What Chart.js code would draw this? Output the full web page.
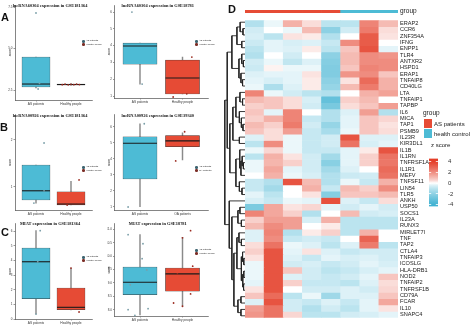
<!DOCTYPE html>
<html>
<head>
<meta charset="utf-8">
<script src="https://cdn.jsdelivr.net/npm/chart.js@4.4.1/dist/chart.umd.min.js"></script>
<style>
html, body { margin: 0; padding: 0; background: #fff; }
body { width: 474px; height: 326px; position: relative; overflow: hidden; font-family: 'Liberation Sans', Arial, sans-serif; }
canvas, .t { position: absolute; }
.t { white-space: nowrap; line-height: 1; color: #222; }
.panel { font-weight: bold; font-size: 11px; color: #111; }
</style>
</head>
<body>
<script>
// ---- box plot panels (A, B, C) ----
const groupsHP = ['AS patients', 'Healthy people'];
const groupsOA = ['AS patients', 'OA patients'];
const boxColors = ['#4DBBD5', '#E64B35'];
const pointColors = ['#7a9ea8', '#9b2b20'];
const legendKeys = ['#3d6470', '#7b2e26'];

// [lower whisker, q1, median, q3, upper whisker] for each group
const a1Stats = [[2.62, 2.68, 2.86, 4.49, 4.49], [2.79, 2.80, 2.83, 2.86, 2.88]];
const a2Stats = [[1.71, 2.90, 3.98, 4.15, 4.15], [1.12, 1.12, 2.07, 3.14, 3.32]];
const b1Stats = [[0.66, 0.725, 0.92, 1.465, 1.465], [0.62, 0.62, 0.64, 0.90, 1.12]];
const b2Stats = [[1.02, 2.75, 4.98, 5.39, 6.19], [3.94, 4.77, 5.13, 5.46, 5.64]];
const c1Stats = [[0.34, 1.39, 3.92, 4.86, 6.05], [0.62, 0.64, 0.80, 2.12, 3.49]];
const c2Stats = [[7.80, 8.56, 9.03, 9.60, 10.81], [8.13, 8.69, 9.34, 9.56, 10.71]];

// jittered samples: [offset from group centre, value]
const a1Points = [[[0, 7.14], [0.06, 2.56], [0.1, 2.9]],
  [[-0.25, 2.82], [-0.17, 2.85], [-0.08, 2.81], [0, 2.84], [0.08, 2.82], [0.16, 2.85], [0.24, 2.83]]];
const a2Points = [[[-0.19, 6.0], [0.05, 1.71]], [[0.22, 3.32], [-0.22, 0.94], [0.1, 1.13]]];
const b1Points = [[[0.23, 1.93], [-0.06, 0.66], [0.23, 0.92]], [[0.23, 1.15], [-0.11, 0.62]]];
const b2Points = [[[-0.28, 1.0], [0.1, 6.2]], [[-0.16, 3.88], [0.05, 5.7]]];
const c1Points = [[[0.12, 6.05], [0, 0.34], [0.05, 3.92]], [[0.23, 0.48], [0, 3.49]]];
const c2Points = [
  [[-0.28, 10.81], [0.07, 10.47], [0.05, 9.91], [-0.28, 8.0], [0.19, 8.04], [-0.12, 7.79], [-0.23, 8.93], [0.16, 9.49]],
  [[0.19, 10.96], [0, 10.69], [0.24, 9.63], [0.19, 8.59], [-0.21, 8.25], [0, 8.13], [-0.12, 9.34]]];

const a1Ticks = [2.5, 5.0, 7.5];
const a2Ticks = [1, 2, 3, 4, 5, 6];
const b1Ticks = [1, 2];
const b2Ticks = [1, 2, 3, 4, 5, 6];
const c1Ticks = [0, 1, 2, 3, 4, 5, 6];
const c2Ticks = [8.0, 8.5, 9.0, 9.5, 10.0, 10.5, 11.0];

const boxPanels = [
  { title: 'lncRNA60304 expression in GSE181364', groups: groupsHP, stats: a1Stats, points: a1Points, ticks: a1Ticks, range: [1.898, 7.617], dec: 1,
    pos: { left: 0, top: 0, w: 110, h: 108, padL: 8, yW: 7, padR: 18, xH: 8, tTop: 3.4, tBot: -3.6 }, legend: [82, 40] },
  { title: 'lncRNA60304 expression in GSE18781', groups: groupsHP, stats: a2Stats, points: a2Points, ticks: a2Ticks, range: [0.881, 6.417], dec: 0,
    pos: { left: 100, top: 0, w: 125, h: 108, padL: 7.5, yW: 7, padR: 17, xH: 10, tTop: 3.4, tBot: -3.6 }, legend: [195, 40] },
  { title: 'lncRNA00926 expression in GSE181364', groups: groupsHP, stats: b1Stats, points: b1Points, ticks: b1Ticks, range: [0.514, 2.526], dec: 0,
    pos: { left: 0, top: 109, w: 110, h: 109, padL: 8, yW: 7, padR: 18, xH: 8, tTop: 4.4, tBot: -3.9 }, legend: [82, 166] },
  { title: 'lncRNA00926 expression in GSE39340', groups: groupsOA, stats: b2Stats, points: b2Points, ticks: b2Ticks, range: [0.8125, 6.76], dec: 0,
    pos: { left: 100, top: 109, w: 125, h: 109, padL: 7.5, yW: 7, padR: 17, xH: 8, tTop: 4.4, tBot: -3.9 }, legend: [195, 166] },
  { title: 'MIAT expression in GSE181364', groups: groupsHP, stats: c1Stats, points: c1Points, ticks: c1Ticks, range: [0, 6.52], dec: 0,
    pos: { left: 0, top: 218, w: 110, h: 108, padL: 8, yW: 7, padR: 18, xH: 7, tTop: 3.4, tBot: -2.9 }, legend: [82, 256] },
  { title: 'MIAT expression in GSE18781', groups: groupsHP, stats: c2Stats, points: c2Points, ticks: c2Ticks, range: [7.764, 11.217], dec: 1,
    pos: { left: 100, top: 218, w: 125, h: 108, padL: 7.5, yW: 7, padR: 17, xH: 10, tTop: 3.4, tBot: -2.9 }, legend: [195, 249] }
];

// ---- heatmap panel (D) ----
const genes = ['ERAP2', 'CCR6', 'ZNF354A', 'IFNG', 'ENPP1', 'TLR4', 'ANTXR2', 'HSPD1', 'ERAP1', 'TNFAIP8',
  'CD40LG', 'LTA', 'TNFAIP1', 'TAPBP', 'IL6', 'MICA', 'TAP1', 'PSMB9', 'IL23R', 'KIR3DL1',
  'IL1B', 'IL1RN', 'TNFRSF1A', 'IL1R1', 'MEFV', 'TNFSF11', 'LIN54', 'TLR5', 'ANKH', 'USP50',
  'SOCS1', 'IL23A', 'RUNX3', 'MIRLET7I', 'TNF', 'TAP2', 'CTLA4', 'TNFAIP3', 'ICOSLG', 'HLA-DRB1',
  'NOD2', 'TNFAIP2', 'TNFRSF1B', 'CD79A', 'FCAR', 'IL10', 'SNAPC4'];
const samples = ['AS1', 'AS2', 'AS3', 'AS4', 'AS5', 'HC1', 'HC2', 'HC3'];
const sampleGroups = ['AS patients', 'AS patients', 'AS patients', 'AS patients', 'AS patients',
  'health control', 'health control', 'health control'];
const groupColors = { 'AS patients': '#E64B35', 'health control': '#4DBBD5' };

// z scores, one row per gene, one value per sample
const zScores = [
  [-1.2, -0.2, 1.2, 0.4, -1.0, -1.0, 2.2, 1.0],
  [-0.6, 0, -0.2, 1.0, -2.0, -0.6, 2.4, 0.4],
  [-0.5, -1.0, 0.3, 0.2, -1.2, 0, 3.2, 0.3],
  [-0.7, -0.3, -0.5, -0.4, -0.8, 2.0, 3.2, 0],
  [-1.0, -0.3, -0.4, 0.2, -1.0, 0.8, 3.4, -0.3],
  [-1.2, 0, -0.6, 0, -2.0, 1.0, 2.0, 1.8],
  [-0.6, -0.2, -0.9, -0.4, -2.2, 1.0, 2.0, 2.0],
  [-0.7, 0.1, -0.2, -0.2, -2.3, 0.8, 2.2, 2.0],
  [-0.4, -0.3, -0.3, 0.3, -2.3, 1.8, 2.0, 0.8],
  [-0.3, -0.5, -0.3, 0.2, -2.0, 0.3, 2.8, 1.2],
  [-0.2, -1.3, -0.4, 0.2, -1.8, 1.0, 2.4, 1.2],
  [2.2, -0.2, -0.6, -1.0, -1.2, 0, 1.2, 1.5],
  [1.0, 0.8, 0.4, -0.5, -3.0, 0.6, 1.0, 0],
  [0.6, 0.8, 0.4, -0.6, -2.5, 0.4, 0.8, 1.6],
  [0.8, -0.3, 2.2, 0, -1.2, -0.4, 1.6, -1.2],
  [0.6, 1.2, 2.2, -0.8, -1.2, -0.3, 0.8, 0.5],
  [1.0, 0.6, 2.4, -0.6, -1.8, -0.3, 0.8, 0.3],
  [0.8, 0.4, 1.6, -0.8, -1.4, -0.2, 0.8, 0.4],
  [-0.4, 0.4, -0.2, -0.8, -0.6, 3.4, -0.4, -0.4],
  [-1.0, 2.0, -0.2, -0.8, -0.6, 2.6, -0.5, -0.3],
  [-0.2, 0.5, -0.2, -0.8, -0.8, -0.3, 0.2, 3.4],
  [-1.0, 1.2, 0.3, -0.6, -1.5, -0.3, 0.6, 2.6],
  [-0.2, 1.1, 0.6, -0.6, -2.1, -0.3, 0.6, 2.5],
  [-0.2, 1.4, -0.3, -0.6, -1.5, -0.4, 0, 2.8],
  [0, 1.2, -0.2, -0.5, -1.2, -0.7, -0.6, 2.6],
  [-0.8, -1.2, 3.4, 1.0, -1.2, -0.2, -0.8, 1.2],
  [-0.8, -1.5, 0, 1.2, -0.8, 1.0, 0.6, 2.0],
  [-0.3, -1.0, 0, 0.3, -2.2, 0.8, 0.8, 1.0],
  [-0.5, -0.8, -0.2, -0.3, 3.5, -0.4, -0.8, 0.4],
  [-2.4, 1.4, 0.3, 0.5, -0.3, -0.6, -0.3, -0.6],
  [2.2, 1.4, 0.6, -1.2, 0, 1.0, -0.6, -0.5],
  [0.6, 1.6, 1.6, -0.5, 1.2, -1.0, -1.0, -1.0],
  [1.0, 2.0, 1.6, 0, 0.2, -1.0, -1.0, -1.0],
  [-0.4, 2.2, -1.2, 0.2, 0.6, -1.0, 1.2, 0],
  [-0.4, 2.0, -0.8, -0.6, -0.8, 0, 3.0, 0],
  [0.4, 2.6, -0.2, -0.4, -1.0, -0.4, 2.4, -1.0],
  [0.6, 3.4, -0.3, 0.3, -0.4, -0.8, -0.6, -0.6],
  [0.3, 3.4, -0.4, -0.8, -0.3, -0.5, -0.4, -0.6],
  [-0.2, 3.4, -0.6, -0.5, -0.8, -0.6, -0.3, -0.5],
  [-0.2, 3.4, 0.8, -0.6, -1.0, -0.8, -0.5, -0.3],
  [-0.2, 3.4, -0.4, -0.6, -0.8, -0.6, -0.3, 0.8],
  [-0.3, 3.4, 0.6, -0.8, -0.8, -1.0, -0.4, 0.4],
  [0.3, 3.4, 0, -0.6, -0.6, -0.4, -0.6, 0.5],
  [0.8, 2.8, -1.0, -0.2, -1.6, -0.4, -0.4, 0.8],
  [-0.4, 3.4, -0.6, -0.8, -0.4, -0.8, -0.3, 1.4],
  [1.6, 2.6, -0.6, -1.2, -0.6, -1.0, -0.3, 0.3],
  [1.8, 2.6, 0.5, -1.0, -1.0, -0.6, -0.5, -0.3]
];

// row dendrogram: [child, child, height]; strings are genes, numbers are earlier merges
const treeMerges = [
  ['CCR6', 'ZNF354A', 1.0], ['IFNG', 'ENPP1', 1.6], ['ERAP2', 0, 2.4], [2, 1, 4.0],
  ['ANTXR2', 'HSPD1', 0.8], ['TLR4', 4, 1.6], ['TNFAIP8', 'CD40LG', 1.2], ['ERAP1', 6, 2.0],
  [5, 7, 3.0], [3, 8, 6.5],
  ['TNFAIP1', 'TAPBP', 1.2], ['LTA', 10, 2.5], ['TAP1', 'PSMB9', 1.0], ['MICA', 12, 1.8],
  ['IL6', 13, 2.8], [11, 14, 4.5], ['IL23R', 'KIR3DL1', 2.8], [15, 16, 6.0],
  ['TNFRSF1A', 'IL1R1', 0.8], ['IL1RN', 18, 1.4], [19, 'MEFV', 2.0], ['IL1B', 20, 2.6],
  ['LIN54', 'TLR5', 1.5], ['TNFSF11', 22, 2.8], [21, 23, 4.5], [17, 24, 7.5], [9, 25, 8.8],
  ['USP50', 'SOCS1', 2.5], ['IL23A', 'RUNX3', 1.8], [27, 28, 3.5],
  ['TNF', 'TAP2', 1.8], ['MIRLET7I', 30, 3.0],
  ['TNFAIP3', 'ICOSLG', 0.6], ['CTLA4', 32, 1.2], ['HLA-DRB1', 'NOD2', 0.6], ['TNFAIP2', 'TNFRSF1B', 0.7],
  [34, 35, 1.1], [33, 36, 1.8], [31, 37, 4.0],
  ['CD79A', 'FCAR', 2.0], ['IL10', 'SNAPC4', 2.0], [39, 40, 3.5], [38, 41, 5.5],
  [29, 42, 6.5], ['ANKH', 43, 7.8], [26, 44, 10]
];

const zTicks = [-4, -2, 0, 2, 4];
const zAxisRange = [-4.3, 4.5];

Chart.defaults.font.family = "'Liberation Sans', Arial, sans-serif";
Chart.defaults.color = '#333';

// z score -> colour, blue / white / red
const zLow = [64, 178, 210], zMid = [255, 255, 255], zHigh = [228, 62, 40];
function zColor(v) {
  const t = Math.max(-1, Math.min(1, v / 4));
  const end = t < 0 ? zLow : zHigh;
  const k = Math.pow(Math.abs(t), 0.75);
  return 'rgb(' + zMid.map((c, i) => Math.round(c + (end[i] - c) * k)).join(',') + ')';
}

function addCanvas(left, top, w, h) {
  const c = document.createElement('canvas');
  c.width = w; c.height = h;
  c.style.left = left + 'px'; c.style.top = top + 'px';
  document.body.appendChild(c);
  return c;
}

function addText(txt, left, top, size, cls) {
  const d = document.createElement('div');
  d.className = 't' + (cls ? ' ' + cls : '');
  d.textContent = txt;
  d.style.left = left + 'px'; d.style.top = top + 'px';
  if (size) d.style.fontSize = size + 'px';
  document.body.appendChild(d);
  return d;
}

function drawBoxPanel(p) {
  const pos = p.pos;
  const c = addCanvas(pos.left, pos.top, pos.w, pos.h);
  const plotW = pos.w - pos.padL - pos.yW - pos.padR;
  const bw = 0.8 * plotW / 2.2;

  const ptData = [], ptCols = [];
  p.points.forEach((pts, gi) => pts.forEach(([dx, y]) => {
    ptData.push({ x: gi + 1 + dx, y: y });
    ptCols.push(pointColors[gi]);
  }));

  new Chart(c, {
    type: 'bar',
    data: {
      datasets: [
        { type: 'scatter', data: ptData, pointRadius: 0.9, pointBorderWidth: 0,
          pointBackgroundColor: ptCols, order: 0, clip: false },
        { type: 'scatter', data: p.stats.map((s, gi) => ({ x: gi + 1, y: s[2] })),
          pointStyle: 'line', pointRadius: bw / 2, pointBorderWidth: 1.1,
          borderColor: '#1a1a1a', pointBorderColor: '#1a1a1a', order: 1, clip: false },
        { type: 'bar', data: p.stats.map((s, gi) => ({ x: gi + 1, y: [s[1], s[3]] })),
          backgroundColor: boxColors, borderColor: '#333', borderWidth: 0.5, borderSkipped: false,
          barThickness: bw, grouped: false, order: 2 },
        { type: 'bar', data: p.stats.map((s, gi) => ({ x: gi + 1, y: [s[0], s[4]] })),
          backgroundColor: '#8a8a8a', barThickness: 0.8, grouped: false, order: 3 }
      ]
    },
    options: {
      responsive: false, animation: false, events: [],
      layout: { autoPadding: false, padding: { left: pos.padL, right: pos.padR, top: 0, bottom: 0 } },
      plugins: {
        legend: { display: false }, tooltip: { enabled: false },
        title: { display: true, text: p.title, color: '#111',
          font: { family: "'Liberation Serif', 'DejaVu Serif', serif", size: 4.4, weight: 'bold' },
          padding: { top: pos.tTop, bottom: pos.tBot } }
      },
      scales: {
        x: {
          type: 'linear', min: 0.4, max: 2.6, offset: false,
          afterBuildTicks: s => { s.ticks = p.groups.map((g, i) => ({ value: i + 1 })); },
          ticks: { callback: v => p.groups[v - 1], font: { size: 3.2 }, color: '#333', padding: 1, maxRotation: 0, autoSkip: false },
          grid: { drawOnChartArea: false, offset: false, tickLength: 1.5, color: '#333', lineWidth: 0.5 },
          border: { color: '#333', width: 0.6 },
          afterFit: s => { s.height = pos.xH; }
        },
        y: {
          min: p.range[0], max: p.range[1],
          afterBuildTicks: s => { s.ticks = p.ticks.map(v => ({ value: v })); },
          ticks: { callback: v => v.toFixed(p.dec), font: { size: 3 }, color: '#333', padding: 1 },
          grid: { drawOnChartArea: false, tickLength: 1.5, color: '#333', lineWidth: 0.5 },
          border: { color: '#333', width: 0.6 },
          title: { display: true, text: 'score', font: { size: 3 }, padding: 0, color: '#333' },
          afterFit: s => { s.width = pos.yW; }
        }
      }
    }
  });

  // small legend beside the boxes
  p.groups.forEach((g, i) => {
    const y = p.legend[1] + i * 3.3;
    const key = addText('', p.legend[0], y, 0);
    key.style.width = '2.6px'; key.style.height = '2.6px';
    key.style.borderRadius = '50%'; key.style.background = legendKeys[i];
    addText(g, p.legend[0] + 4, y + 0.2, 2.4);
  });
}

boxPanels.forEach(drawBoxPanel);

addText('A', 1, 11.5, 11, 'panel');
addText('B', 0, 121.5, 11, 'panel');
addText('C', 1, 226.5, 11, 'panel');
addText('D', 228, 3.5, 11, 'panel');

// group annotation bar above the heatmap
new Chart(addCanvas(245, 4, 229, 15), {
  type: 'bar',
  data: {
    labels: samples,
    datasets: [{ data: samples.map(() => 1), backgroundColor: sampleGroups.map(g => groupColors[g]),
      borderWidth: 0, barPercentage: 1, categoryPercentage: 1 }]
  },
  options: {
    responsive: false, animation: false, events: [],
    layout: { padding: { top: 4, bottom: 4 } },
    plugins: { legend: { display: false }, tooltip: { enabled: false } },
    scales: {
      x: { display: false },
      y: { display: false, min: 0, max: 1 },
      grp: { type: 'category', labels: ['group'], position: 'right', offset: true,
        grid: { display: false, drawTicks: false }, border: { display: false },
        ticks: { font: { size: 6.5 }, color: '#222', padding: 2 },
        afterFit: s => { s.width = 76; } }
    }
  }
});

// heatmap cells: one stacked bar segment per gene and sample
new Chart(addCanvas(245, 15, 229, 308), {
  type: 'bar',
  data: {
    labels: samples,
    datasets: genes.map((g, i) => ({
      label: g, data: samples.map(() => 1), backgroundColor: zScores[i].map(zColor),
      borderWidth: 0, barPercentage: 1, categoryPercentage: 1
    }))
  },
  options: {
    responsive: false, animation: false, events: [],
    layout: { padding: { top: 4, bottom: 4 } },
    plugins: { legend: { display: false }, tooltip: { enabled: false } },
    scales: {
      x: { display: false, stacked: true },
      y: { display: false, stacked: true, min: 0, max: genes.length, reverse: true },
      genes: { type: 'category', labels: genes, position: 'right', offset: true,
        grid: { display: false, drawTicks: false }, border: { display: false },
        ticks: { autoSkip: false, font: { size: 5.6 }, color: '#222', padding: 2 },
        afterFit: s => { s.width = 76; } }
    }
  }
});

// row dendrogram drawn from the merge table
const nodes = [];
const nodeAt = ref => typeof ref === 'string' ? { h: 0, y: genes.indexOf(ref) } : nodes[ref];
const treeSets = treeMerges.map(([a, b, h]) => {
  const pa = nodeAt(a), pb = nodeAt(b);
  nodes.push({ h: h, y: (pa.y + pb.y) / 2 });
  return {
    data: [{ x: pa.h, y: pa.y }, { x: h, y: pa.y }, { x: h, y: pb.y }, { x: pb.h, y: pb.y }],
    showLine: true, borderColor: '#222', borderWidth: 0.9, pointRadius: 0, clip: false
  };
});
new Chart(addCanvas(224, 19, 21, 300), {
  type: 'scatter',
  data: { datasets: treeSets },
  options: {
    responsive: false, animation: false, events: [],
    layout: { autoPadding: false },
    plugins: { legend: { display: false }, tooltip: { enabled: false } },
    scales: {
      x: { type: 'linear', display: false, min: 0, max: 10.4, reverse: true },
      y: { type: 'linear', display: false, min: -0.5, max: genes.length - 0.5, reverse: true }
    }
  }
});

// legends: group keys and z score colour bar
addText('group', 423, 110, 6.5);
['AS patients', 'health control'].forEach((g, i) => {
  const key = addText('', 424, 119 + i * 10, 0);
  key.style.width = '8px'; key.style.height = '8.5px'; key.style.background = groupColors[g];
  addText(g, 434, 120.5 + i * 10, 6);
});
addText('z score', 431, 141.5, 6);

new Chart(addCanvas(425, 145, 49, 75), {
  type: 'bar',
  data: {
    labels: ['z'],
    datasets: [{
      data: [zAxisRange], borderWidth: 0, barPercentage: 1, categoryPercentage: 1,
      backgroundColor: ctx => {
        const ch = ctx.chart;
        if (!ch.chartArea) return zColor(0);
        const ys = ch.scales.y;
        const g = ch.ctx.createLinearGradient(0, ys.getPixelForValue(-4), 0, ys.getPixelForValue(4));
        for (let v = -4; v <= 4; v += 0.5) g.addColorStop((v + 4) / 8, zColor(v));
        return g;
      }
    }]
  },
  options: {
    responsive: false, animation: false, events: [],
    layout: { padding: { left: 4, top: 4, bottom: 4 } },
    plugins: { legend: { display: false }, tooltip: { enabled: false } },
    scales: {
      x: { display: false },
      y: {
        position: 'right', min: zAxisRange[0], max: zAxisRange[1],
        afterBuildTicks: s => { s.ticks = zTicks.map(v => ({ value: v })); },
        ticks: { font: { size: 6 }, color: '#333', padding: 10 },
        grid: { color: '#fff', lineWidth: 0.8, drawTicks: false, z: 1 },
        border: { display: false, dash: [2.2, 4.6] },
        afterFit: s => { s.width = 36; }
      }
    }
  }
});
</script>
</body>
</html>
